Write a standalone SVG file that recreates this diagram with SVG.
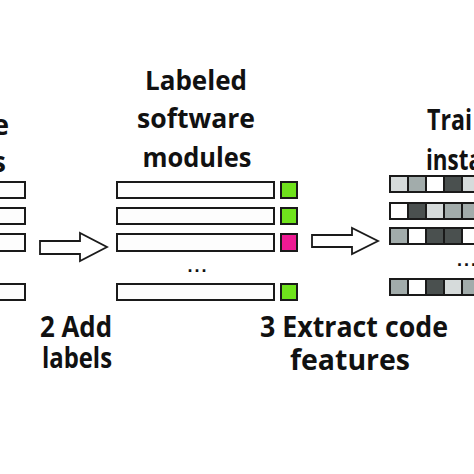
<svg xmlns="http://www.w3.org/2000/svg" width="474" height="474" viewBox="0 0 474 474">
<style>
.t{font-family:"Open Sans","Noto Sans",sans-serif;font-weight:bold;fill:#111}
.m{font-size:26px}
.o{font-size:28px}
.box{fill:#fdfdfd;stroke:#1a1a1a;stroke-width:2}
.g{fill:#6fe31c;stroke:#1a1a1a;stroke-width:2}
.p{fill:#ee1a93;stroke:#1a1a1a;stroke-width:2}
.c{stroke:#1a1a1a;stroke-width:2}
.L{fill:#d6dbdb}.M{fill:#a2acab}.D{fill:#4a504f}.W{fill:#ffffff}
.arr{fill:#ffffff;stroke:#1a1a1a;stroke-width:1.8;stroke-linejoin:miter}
.dots{font-family:"Liberation Sans",sans-serif;font-size:18px;font-weight:bold;fill:#111}
</style>
<rect width="474" height="474" fill="#ffffff"/>
<g id="software-modules">
<text class="t o" x="9" y="135" text-anchor="end">e</text>
<text class="t o" x="6" y="172" text-anchor="end">s</text>
<rect class="box" x="-5" y="182" width="30" height="16"/>
<rect class="box" x="-5" y="208" width="30" height="16"/>
<rect class="box" x="-5" y="234" width="30" height="17"/>
<rect class="box" x="-5" y="284" width="30" height="16"/>
</g>
<g id="labeled-modules">
<text class="t m" x="196" y="90" text-anchor="middle" textLength="102" lengthAdjust="spacingAndGlyphs">Labeled</text>
<text class="t m" x="196" y="128" text-anchor="middle" textLength="118" lengthAdjust="spacingAndGlyphs">software</text>
<text class="t m" x="197" y="167" text-anchor="middle" textLength="109" lengthAdjust="spacingAndGlyphs">modules</text>
<rect class="box" x="117" y="182" width="157" height="16"/>
<rect class="box" x="117" y="208" width="157" height="16"/>
<rect class="box" x="117" y="234" width="157" height="17"/>
<rect class="box" x="117" y="284" width="157" height="16"/>
<rect class="g" x="281" y="182" width="16" height="16"/>
<rect class="g" x="281" y="208" width="16" height="16"/>
<rect class="p" x="281" y="234" width="16" height="17"/>
<rect class="g" x="281" y="284" width="16" height="16"/>
<text class="dots" x="197" y="272" text-anchor="middle" textLength="19" lengthAdjust="spacing">...</text>
</g>
<g id="training-instances">
<text class="t o" x="427" y="130" textLength="45" lengthAdjust="spacingAndGlyphs">Trai</text>
<text class="t o" x="426" y="170" textLength="56" lengthAdjust="spacingAndGlyphs">insta</text>
<g class="c">
<rect class="L" x="390" y="176" width="18" height="16"/><rect class="M" x="408" y="176" width="18" height="16"/><rect class="W" x="426" y="176" width="18" height="16"/><rect class="D" x="444" y="176" width="18" height="16"/><rect class="L" x="462" y="176" width="18" height="16"/>
<rect class="W" x="390" y="203" width="18" height="16"/><rect class="D" x="408" y="203" width="18" height="16"/><rect class="L" x="426" y="203" width="18" height="16"/><rect class="M" x="444" y="203" width="18" height="16"/><rect class="M" x="462" y="203" width="18" height="16"/>
<rect class="M" x="390" y="228" width="18" height="16"/><rect class="W" x="408" y="228" width="18" height="16"/><rect class="D" x="426" y="228" width="18" height="16"/><rect class="D" x="444" y="228" width="18" height="16"/><rect class="W" x="462" y="228" width="18" height="16"/>
<rect class="M" x="390" y="279" width="18" height="16"/><rect class="W" x="408" y="279" width="18" height="16"/><rect class="D" x="426" y="279" width="18" height="16"/><rect class="L" x="444" y="279" width="18" height="16"/><rect class="M" x="462" y="279" width="18" height="16"/>
</g>
<text class="dots" x="457" y="266" textLength="19" lengthAdjust="spacing">...</text>
</g>
<g id="connectors">
<path class="arr" d="M40,241 L80,241 L80,233 L107,247 L80,261 L80,254 L40,254 Z"/>
<path class="arr" d="M312,235 L352,235 L352,228 L378,241 L352,254 L352,247 L312,247 Z"/>
<text class="t o" x="76" y="337" text-anchor="middle" textLength="72" lengthAdjust="spacingAndGlyphs">2 Add</text>
<text class="t o" x="77" y="368" text-anchor="middle" textLength="70" lengthAdjust="spacingAndGlyphs">labels</text>
<text class="t o" x="354" y="337" text-anchor="middle" textLength="188" lengthAdjust="spacingAndGlyphs">3 Extract code</text>
<text class="t o" x="350" y="370" text-anchor="middle" textLength="120" lengthAdjust="spacingAndGlyphs">features</text>
</g>
</svg>
